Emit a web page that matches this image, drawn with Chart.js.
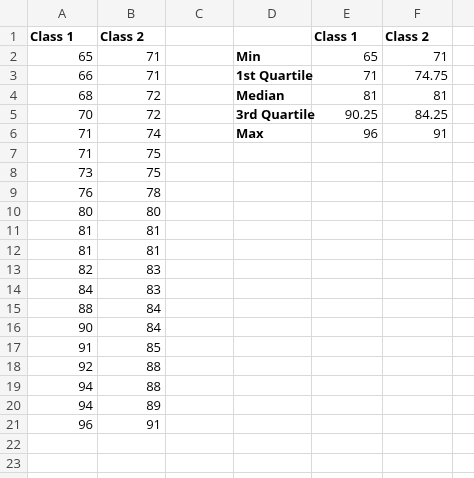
<!DOCTYPE html>
<html>
<head>
<meta charset="utf-8">
<script src="https://cdn.jsdelivr.net/npm/chart.js@4/dist/chart.umd.min.js"></script>
<style>
  html, body { margin: 0; padding: 0; background: #fff; }
  #sheet { display: block; }
</style>
</head>
<body>
<canvas id="sheet" width="474" height="478"></canvas>
<script>
// sheet contents
const columnLetters = ['A', 'B', 'C', 'D', 'E', 'F'];
const seriesNames = ['Class 1', 'Class 2'];
const class1 = [65, 66, 68, 70, 71, 71, 73, 76, 80, 81, 81, 82, 84, 88, 90, 91, 92, 94, 94, 96];
const class2 = [71, 71, 72, 72, 74, 75, 75, 78, 80, 81, 81, 83, 83, 84, 84, 85, 88, 88, 89, 91];
const statLabels = ['Min', '1st Quartile', 'Median', '3rd Quartile', 'Max'];
const stats1 = [65, 71, 81, 90.25, 96];
const stats2 = [71, 74.75, 81, 84.25, 91];
const rowCount = 24;

// layout of the grid (pixel units of the scales)
const colEdges = [0, 27, 97, 165, 233, 311, 382, 452, 520];
const headerH = 27;
const rowH = 19.4;

const sheetPlugin = {
  id: 'sheet',
  afterDraw(chart) {
    const { ctx, scales: { x, y } } = chart;
    const px = v => x.getPixelForValue(v);
    const py = v => y.getPixelForValue(v);
    const rowTop = r => r === 0 ? 0 : headerH + (r - 1) * rowH;
    const W = px(474), H = py(478);

    ctx.save();
    // header backgrounds
    ctx.fillStyle = '#f5f5f5';
    ctx.fillRect(0, 0, W, py(headerH));
    ctx.fillRect(0, 0, px(colEdges[1]), H);

    // grid lines
    ctx.strokeStyle = '#d9d9d9';
    ctx.lineWidth = 1;
    colEdges.slice(1).forEach(e => {
      ctx.beginPath();
      ctx.moveTo(Math.round(px(e)) + 0.5, 0);
      ctx.lineTo(Math.round(px(e)) + 0.5, H);
      ctx.stroke();
    });
    for (let r = 1; r <= rowCount + 1; r++) {
      const yy = Math.round(py(rowTop(r))) - 0.5;
      ctx.beginPath();
      ctx.moveTo(0, yy);
      ctx.lineTo(W, yy);
      ctx.stroke();
    }

    const font = (bold) => (bold ? 'bold ' : '') + '13px "Open Sans", "Noto Sans", sans-serif';
    const cell = (col, row, text, align, bold, color) => {
      const l = px(colEdges[col]), rr = px(colEdges[col + 1]);
      const cy = py(rowTop(row) + (row === 0 ? headerH : rowH) / 2) + 1;
      ctx.font = font(bold);
      ctx.fillStyle = color || '#000';
      ctx.textBaseline = 'middle';
      ctx.textAlign = align;
      const xx = align === 'left' ? l + 3 : align === 'right' ? rr - 4 : (l + rr) / 2;
      ctx.fillText(String(text), xx, cy);
    };

    // column and row headers
    columnLetters.forEach((c, i) => cell(i + 1, 0, c, 'center', false, '#444'));
    for (let r = 1; r <= rowCount; r++) cell(0, r, r, 'center', false, '#444');

    // raw data
    seriesNames.forEach((n, i) => cell(i + 1, 1, n, 'left', true));
    class1.forEach((v, i) => cell(1, i + 2, v, 'right'));
    class2.forEach((v, i) => cell(2, i + 2, v, 'right'));

    // summary table
    seriesNames.forEach((n, i) => cell(i + 5, 1, n, 'left', true));
    statLabels.forEach((s, i) => {
      cell(4, i + 2, s, 'left', true);
      cell(5, i + 2, stats1[i], 'right');
      cell(6, i + 2, stats2[i], 'right');
    });
    ctx.restore();
  }
};

new Chart(document.getElementById('sheet'), {
  type: 'scatter',
  data: { datasets: [{ data: [] }] },
  options: {
    responsive: false,
    animation: false,
    devicePixelRatio: 1,
    layout: { padding: 0 },
    plugins: { legend: { display: false }, tooltip: { enabled: false } },
    scales: {
      x: { type: 'linear', min: 0, max: 474, display: false },
      y: { type: 'linear', min: 0, max: 478, reverse: true, display: false }
    }
  },
  plugins: [sheetPlugin]
});
</script>
</body>
</html>
